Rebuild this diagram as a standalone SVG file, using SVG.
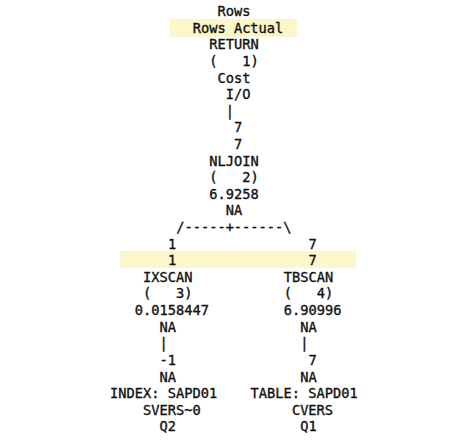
<svg xmlns="http://www.w3.org/2000/svg" width="474" height="440" viewBox="0 0 474 440">
<style>
text{font-family:"DejaVu Sans Mono","Liberation Mono",monospace;font-size:13.7px;fill:#111;stroke:#111;stroke-width:0.35px;white-space:pre}
.hl{fill:#FBF7CB}
</style>
<rect width="474" height="440" fill="#fff"/>
<g id="legend">
<rect class="hl" x="170" y="19" width="127" height="18"/>
<text x="217.5" y="16">Rows</text>
<text x="192.7" y="32.6">Rows Actual</text>
</g>
<rect class="hl" x="120" y="251" width="236" height="17"/>
<g id="node-return">
<text x="209.2" y="49.3">RETURN</text>
<text x="209.2" y="65.9" xml:space="preserve">(   1)</text>
<text x="217.5" y="82.5">Cost</text>
<text x="225.8" y="99.1">I/O</text>
</g>
<g id="connectors">
<text x="225.8" y="115.8">|</text>
<text x="176.2" y="231.9">/-----+------\</text>
<text x="159.6" y="348.3">|</text>
<text x="300.3" y="348.3">|</text>
</g>
<g id="node-nljoin">
<text x="234.1" y="132.4">7</text>
<text x="234.1" y="149">7</text>
<text x="209.2" y="165.6">NLJOIN</text>
<text x="209.2" y="182.2" xml:space="preserve">(   2)</text>
<text x="209.2" y="198.8">6.9258</text>
<text x="225.8" y="215.4">NA</text>
</g>
<g id="node-ixscan">
<text x="167.9" y="248.5">1</text>
<text x="167.9" y="265.1">1</text>
<text x="143.1" y="281.7">IXSCAN</text>
<text x="143.1" y="298.3" xml:space="preserve">(   3)</text>
<text x="134.8" y="314.9">0.0158447</text>
<text x="159.6" y="331.5">NA</text>
</g>
<g id="node-tbscan">
<text x="308.5" y="248.5">7</text>
<text x="308.5" y="265.1">7</text>
<text x="283.7" y="281.7">TBSCAN</text>
<text x="283.7" y="298.3" xml:space="preserve">(   4)</text>
<text x="283.7" y="314.9">6.90996</text>
<text x="300.2" y="331.5">NA</text>
</g>
<g id="node-index">
<text x="159.6" y="364.9">-1</text>
<text x="159.6" y="381.5">NA</text>
<text x="110" y="398.2">INDEX: SAPD01</text>
<text x="143.1" y="414.8">SVERS~0</text>
<text x="159.6" y="431.4">Q2</text>
</g>
<g id="node-table">
<text x="308.5" y="364.9">7</text>
<text x="300.2" y="381.5">NA</text>
<text x="250.6" y="398.2">TABLE: SAPD01</text>
<text x="291.9" y="414.8">CVERS</text>
<text x="300.2" y="431.4">Q1</text>
</g>
</svg>
